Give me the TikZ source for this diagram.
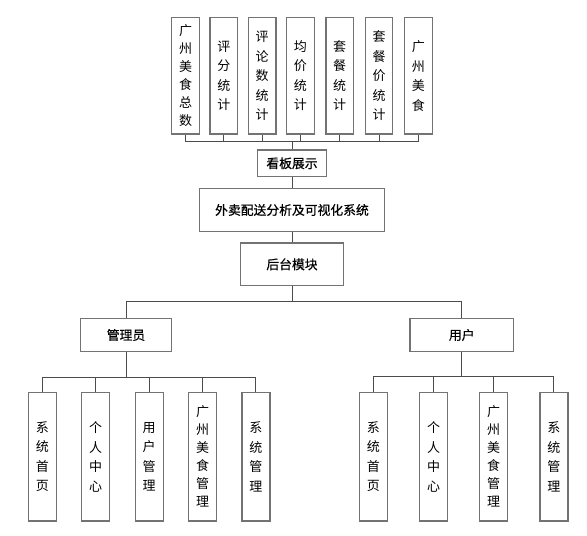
\documentclass[tikz,border=0pt]{standalone}
\usepackage{fontspec}
\newfontfamily\cjk{Noto Sans CJK SC}
\newfontfamily\cjkmid[FakeBold=0.6]{Noto Sans CJK SC}
\usetikzlibrary{positioning}

\begin{document}
\begin{tikzpicture}[
  x=1pt, y=1pt,
  line/.style={draw=black!70, line width=1pt},
  hbox/.style={rectangle, draw=black!55, line width=1.2pt, fill=white,
               inner sep=0pt, align=center,
               font=\cjkmid\fontsize{12.8}{15}\selectfont},
  vbox/.style={rectangle, draw=black!55, line width=1.2pt, fill=white,
               inner sep=0pt, minimum width=27.6pt, align=center,
               font=\cjk\fontsize{13}{19.5}\selectfont},
  vsix/.style={vbox, font=\cjk\fontsize{13}{18}\selectfont},
  topbox/.style={vbox, minimum height=116.3pt},
  subbox/.style={vbox, minimum height=128.7pt, minimum width=28pt},
]
 \useasboundingbox (0,0) rectangle (587,-536);

 % Top row: statistics shown on the board
 \node[topbox, vsix] (t1) at (185.5,-75.8) {广\\州\\美\\食\\总\\数};
 \node[topbox, right=9.5pt of t1] (t2) {评\\分\\统\\计};
 \node[topbox, right=9.5pt of t2] (t3) {评\\论\\数\\统\\计};
 \node[topbox, right=9.5pt of t3] (t4) {均\\价\\统\\计};
 \node[topbox, right=10.5pt of t4] (t5) {套\\餐\\统\\计};
 \node[topbox, right=10.5pt of t5] (t6) {套\\餐\\价\\统\\计};
 \node[topbox, right=10.5pt of t6] (t7) {广\\州\\美\\食};

 % Main column
 \node[hbox, minimum width=69.4pt, minimum height=26.7pt] (board) at (292,-163.3) {看板展示};
 \node[hbox, minimum width=185.7pt, minimum height=42.3pt, below=11pt of board] (sys) {外卖配送分析及可视化系统};
 \node[hbox, minimum width=103pt, minimum height=42.6pt, below=10.7pt of sys] (back) {后台模块};

 % Roles
 \node[hbox, minimum width=90.6pt, minimum height=33.4pt] (admin) at (126,-335) {管理员};
 \node[hbox, minimum width=103.3pt, minimum height=33.4pt] (user) at (461.7,-335) {用户};

 % Admin functions
 \node[subbox] (a1) at (42.3,-456.7) {系\\统\\首\\页};
 \node[subbox, right=24.2pt of a1] (a2) {个\\人\\中\\心};
 \node[subbox, right=24.2pt of a2] (a3) {用\\户\\管\\理};
 \node[subbox, vsix, minimum height=128.7pt, minimum width=28pt, right=24.2pt of a3] (a4) {广\\州\\美\\食\\管\\理};
 \node[subbox, right=24.2pt of a4] (a5) {系\\统\\管\\理};

 % User functions
 \node[subbox] (u1) at (373.3,-456.7) {系\\统\\首\\页};
 \node[subbox, right=31pt of u1] (u2) {个\\人\\中\\心};
 \node[subbox, vsix, minimum height=128.7pt, minimum width=28pt, right=31pt of u2] (u3) {广\\州\\美\\食\\管\\理};
 \node[subbox, right=31pt of u3] (u4) {系\\统\\管\\理};

 % Connectors
 \draw[line] (board.north) -- ++(0,8.3) coordinate (tb);
 \foreach \i in {1,...,7}
   \draw[line] (t\i.south) |- (tb);
 \draw[line] (board) -- (sys);
 \draw[line] (sys) -- (back);
 \draw[line] (back.south) -- ++(0,-15.7) coordinate (hub);
 \draw[line] (hub) -| (admin.north);
 \draw[line] (hub) -| (user.north);
 \draw[line] (admin.south) -- ++(0,-25) coordinate (ab);
 \foreach \i in {1,...,5}
   \draw[line] (ab) -| (a\i.north);
 \draw[line] (user.south) -- ++(0,-24.3) coordinate (ub);
 \foreach \i in {1,...,4}
   \draw[line] (ub) -| (u\i.north);
\end{tikzpicture}
\end{document}
